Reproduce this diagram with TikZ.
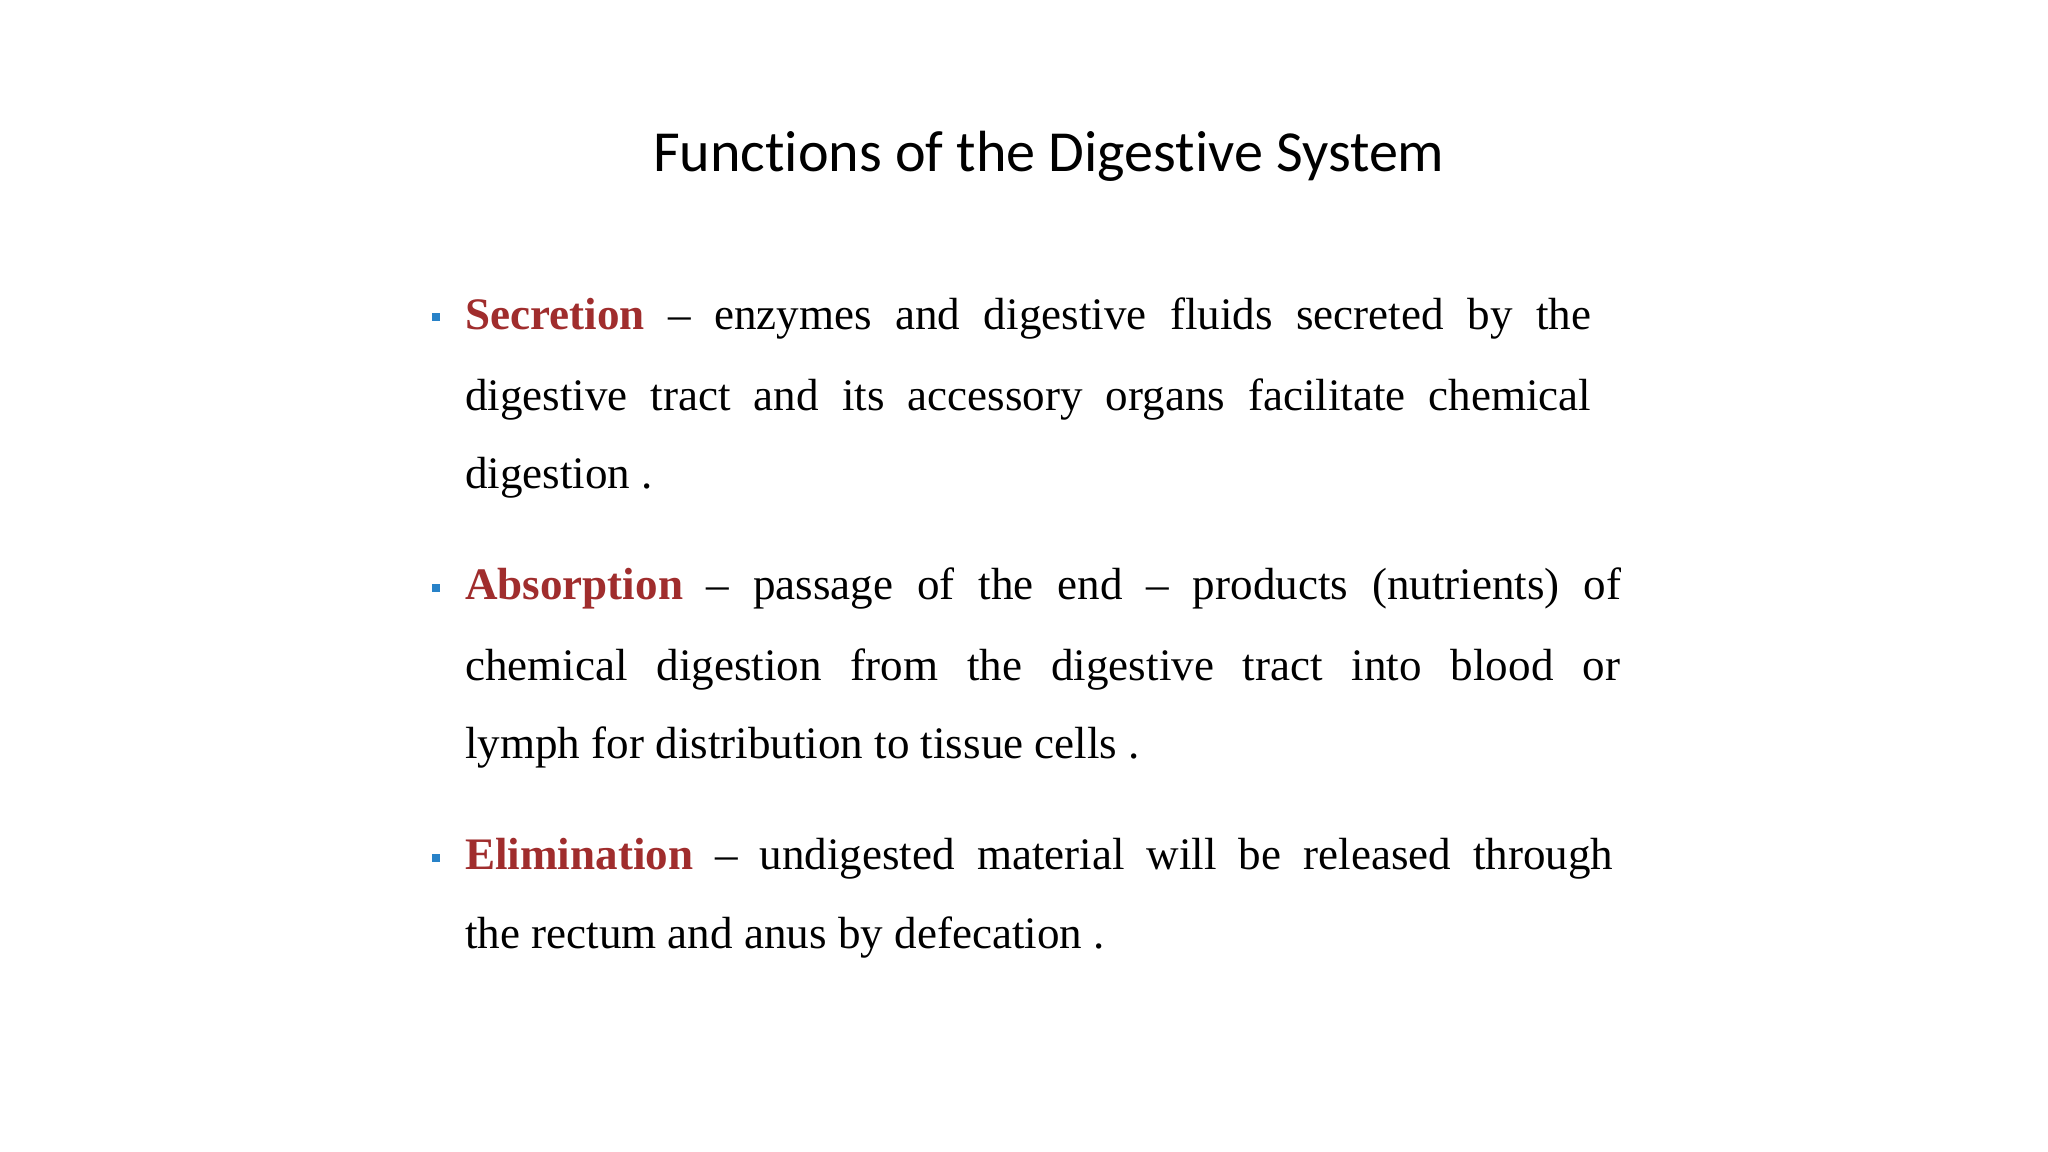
\documentclass[tikz,border=0pt]{standalone}
\usepackage{fontspec}
\setmainfont{Liberation Serif}
\newfontfamily\titlefont[Ligatures=NoCommon]{Carlito}
\definecolor{kw}{RGB}{160,45,45}
\definecolor{bul}{RGB}{40,130,200}
\newcommand{\jline}[2]{\parbox{#1pt}{\parfillskip=0pt\relax #2}}
\begin{document}
\begin{tikzpicture}[x=1pt,y=-1pt,
  tx/.style={anchor=base west,inner sep=0pt,font=\fontsize{34.5}{40}\selectfont},
  bl/.style={fill=bul,minimum size=6pt,inner sep=0pt}]
\useasboundingbox (0,0) rectangle (1568,882);
\fill[white] (0,0) rectangle (1568,882);
\node[anchor=base,inner sep=0pt,font=\titlefont\fontsize{44.5}{50}\selectfont] (title) at (803,131) {Functions of the Digestive System};
\node[bl] (b1) at (334,243) {};
\node[bl] (b2) at (334,450) {};
\node[bl] (b3) at (334,657) {};
\node[tx] (l1) at (356,250) {\jline{862}{\textbf{\textcolor{kw}{Secretion}} -- enzymes and digestive fluids secreted by the}};
\node[tx] (l2) at (356,312) {\jline{862}{digestive tract and its accessory organs facilitate chemical}};
\node[tx] (l3) at (356,374) {digestion .};
\node[tx] (l4) at (356,457) {\jline{885}{\textbf{\textcolor{kw}{Absorption}} -- passage of the end -- products (nutrients) of}};
\node[tx] (l5) at (356,519) {\jline{884}{chemical digestion from the digestive tract into blood or}};
\node[tx] (l6) at (356,581) {lymph for distribution to tissue cells .};
\node[tx] (l7) at (356,664) {\jline{879}{\textbf{\textcolor{kw}{Elimination}} -- undigested material will be released through}};
\node[tx] (l8) at (356,726) {the rectum and anus by defecation .};
\end{tikzpicture}
\end{document}
